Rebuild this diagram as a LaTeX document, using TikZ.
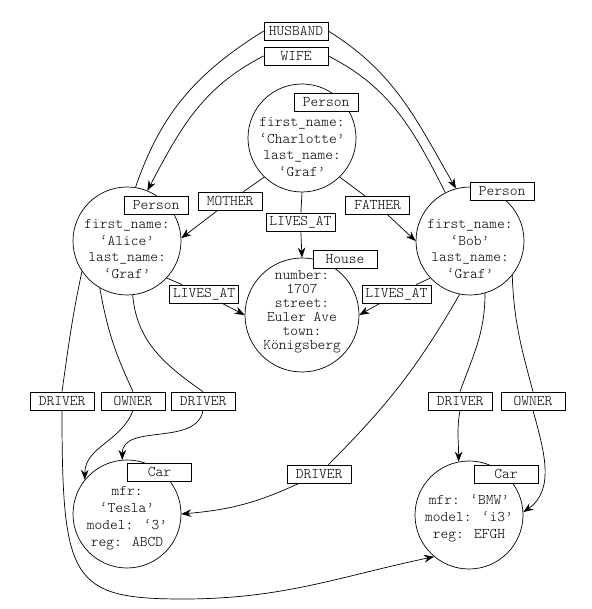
\documentclass[tikz,border=0pt]{standalone}
\usepackage{fontspec}
\newfontfamily\mono{lmmonolt10-regular.otf}
\usetikzlibrary{arrows.meta}
\def\monofont{\mono\fontsize{10.5}{12}\selectfont}
\def\monotight{\mono\fontsize{10.5}{10}\selectfont}
\tikzset{
	entity/.style={draw, circle, inner sep=0pt, minimum size=2.7cm},
	props/.style={align=center, inner sep=0pt, font=\monofont},
	kind/.style={draw, fill=white, inner xsep=2.5pt, inner ysep=1.5pt, minimum width=1.6cm, minimum height=0.45cm, font=\monofont},
	rel/.style={-{Stealth[length=2.5mm,width=1.9mm]}},
}

\begin{document}
\begin{tikzpicture}[line width=0.5pt]
			%%%%% START %%%%%
			\useasboundingbox (0, 0) rectangle (14.775, 15.225);
			
			\node[entity] (charlotte) at (7.55, 11.775) {};
			\node[props] (charlottetxt) at (7.55, 11.55) {first\_name:\\‘Charlotte’\\last\_name:\\‘Graf’};
			\node[kind] (charlottetype) at (8.15, 12.675) {Person};
			
			\node[entity] (alice) at (3.175, 9.2) {};
			\node[props] (alicetxt) at (3.175, 9.0) {first\_name:\\‘Alice’\\last\_name:\\‘Graf’};
			\node[kind] (alicetype) at (3.9, 10.09) {Person};
			
			\node[entity] (bob) at (11.75, 9.2) {};
			\node[props] (bobtxt) at (11.75, 9.0) {first\_name:\\‘Bob’\\last\_name:\\‘Graf’};
			\node[kind] (bobtype) at (12.55, 10.45) {Person};
			
			\node[entity, minimum size=2.85cm] (house) at (7.55, 7.35) {};
			\node[props, font=\monotight] (housetxt) at (7.55, 7.425) {number:\\1707\\street:\\Euler Ave\\town:\\Königsberg};
			\node[kind] (housetype) at (8.625, 8.74) {House};
			
			\node[entity] (tesla) at (3.175, 2.375) {};
			\node[props] (teslatxt) at (3.175, 2.275) {mfr:\\‘Tesla’\\model: ‘3’\\reg: ABCD};
			\node[kind] (teslatype) at (3.99, 3.425) {Car};
			
			\node[entity] (bmw) at (11.725, 2.35) {};
			\node[props] (bmwtxt) at (11.725, 2.275) {mfr: ‘BMW’\\model: ‘i3’\\reg: EFGH};
			\node[kind] (bmwtype) at (12.65, 3.375) {Car};
			
			\node[kind] (husband) at (7.4, 14.45) {HUSBAND};
			\node[kind] (wife) at (7.4, 13.825) {WIFE};
			\node[kind] (mother) at (5.75, 10.2) {MOTHER};
			\node[kind] (father) at (9.44, 10.09) {FATHER};
			\node[kind] (livesc) at (7.51, 9.675) {LIVES\_AT};
			\node[kind] (livesa) at (5.1, 7.875) {LIVES\_AT};
			\node[kind] (livesb) at (9.91, 7.875) {LIVES\_AT};
			\node[kind] (drivera) at (1.55, 5.2) {DRIVER};
			\node[kind] (ownera) at (3.325, 5.2) {OWNER};
			\node[kind] (driverb) at (5.075, 5.2) {DRIVER};
			\node[kind] (driverc) at (7.975, 3.375) {DRIVER};
			\node[kind] (driverd) at (11.5, 5.2) {DRIVER};
			\node[kind] (ownerb) at (13.325, 5.2) {OWNER};
			\coordinate (low) at (4.575, 0.25);
			
			% family
			\draw[rel] (alice.81) to[out=71, in=212] (husband.west) (husband.east) to[out=-32, in=120] (bob.105);
			\draw[rel] (bob.117) to[out=117, in=-27] (wife.east) (wife.west) to[out=207, in=62] (alice.68);
			\draw[rel] (charlotte.226) -- (mother) -- (alice.3);
			\draw[rel] (charlotte.314) -- (father) -- (bob.180);
			\draw[rel] (charlotte.south) -- (livesc) -- (house.north);
			\draw[rel] (alice.317) -- (livesa) -- (house.west);
			\draw[rel] (bob.223) -- (livesb) -- (house.east);
			
			% cars
			\draw[rel] (alice.214) to[out=258, in=82] (drivera.north) (drivera.south) to[out=-90, in=180, out distance=4.25cm, in distance=2.8cm] (low) to[out=0, in=192] (bmw.230);
			\draw[rel] (alice.240) to[out=-80, in=115] (ownera.north) (ownera.south) to[out=250, in=90] (tesla.141);
			\draw[rel] (alice.276) to[out=-85, in=145] (driverb.north) (driverb.south) to[out=-100, in=90] (tesla.95);
			\draw[rel] (bob.259) to[out=240, in=45] (driverc) to[out=205, in=5] (tesla.east);
			\draw[rel] (bob.286) to[out=-90, in=70] (driverd.north) (driverd.south) to[out=-100, in=90] (bmw.101);
			\draw[rel] (bob.321) to[out=-88, in=105] (ownerb.north) (ownerb.south) to[out=-75, in=35] (bmw.3);
			
			%%%%% END %%%%%
\end{tikzpicture}
\end{document}
